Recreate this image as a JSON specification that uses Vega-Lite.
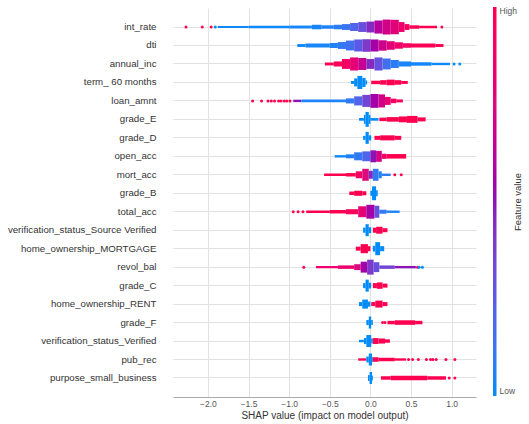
{
  "$schema": "https://vega.github.io/schema/vega-lite/v6.json",
  "width": 303,
  "height": 389,
  "autosize": "none",
  "padding": {"left": 173, "top": 8, "right": 53, "bottom": 27},
  "config": {
    "font": "Liberation Sans",
    "view": {"stroke": null}
  },
  "datasets": {
    "segs": [
      {"f": "int_rate", "a": -1.88, "b": -1.5, "n": 0.75, "v": 0.02},
      {"f": "int_rate", "a": -1.5, "b": -1.0, "n": 0.9, "v": 0.02},
      {"f": "int_rate", "a": -1.0, "b": -0.72, "n": 1.1, "v": 0.03},
      {"f": "int_rate", "a": -0.72, "b": -0.6, "n": 1.7, "v": 0.03},
      {"f": "int_rate", "a": -0.6, "b": -0.45, "n": 1.3, "v": 0.05},
      {"f": "int_rate", "a": -0.45, "b": -0.35, "n": 1.7, "v": 0.08},
      {"f": "int_rate", "a": -0.35, "b": -0.25, "n": 2.2, "v": 0.12},
      {"f": "int_rate", "a": -0.25, "b": -0.15, "n": 3.0, "v": 0.2},
      {"f": "int_rate", "a": -0.15, "b": -0.05, "n": 3.7, "v": 0.3},
      {"f": "int_rate", "a": -0.05, "b": 0.05, "n": 4.1, "v": 0.45},
      {"f": "int_rate", "a": 0.05, "b": 0.15, "n": 4.9, "v": 0.6},
      {"f": "int_rate", "a": 0.15, "b": 0.25, "n": 5.6, "v": 0.7},
      {"f": "int_rate", "a": 0.25, "b": 0.35, "n": 5.4, "v": 0.78},
      {"f": "int_rate", "a": 0.35, "b": 0.42, "n": 3.7, "v": 0.85},
      {"f": "int_rate", "a": 0.42, "b": 0.48, "n": 2.2, "v": 0.92},
      {"f": "int_rate", "a": 0.48, "b": 0.6, "n": 1.3, "v": 0.97},
      {"f": "int_rate", "a": 0.6, "b": 0.82, "n": 0.9, "v": 1},

      {"f": "dti", "a": -0.9, "b": -0.8, "n": 1.1, "v": 0.02},
      {"f": "dti", "a": -0.8, "b": -0.5, "n": 1.5, "v": 0.03},
      {"f": "dti", "a": -0.5, "b": -0.4, "n": 1.9, "v": 0.05},
      {"f": "dti", "a": -0.4, "b": -0.3, "n": 2.6, "v": 0.1},
      {"f": "dti", "a": -0.3, "b": -0.2, "n": 3.7, "v": 0.15},
      {"f": "dti", "a": -0.2, "b": -0.1, "n": 4.5, "v": 0.25},
      {"f": "dti", "a": -0.1, "b": 0.0, "n": 4.7, "v": 0.4},
      {"f": "dti", "a": 0.0, "b": 0.1, "n": 4.5, "v": 0.55},
      {"f": "dti", "a": 0.1, "b": 0.2, "n": 3.9, "v": 0.68},
      {"f": "dti", "a": 0.2, "b": 0.3, "n": 3.2, "v": 0.78},
      {"f": "dti", "a": 0.3, "b": 0.4, "n": 2.4, "v": 0.87},
      {"f": "dti", "a": 0.4, "b": 0.5, "n": 1.7, "v": 0.93},
      {"f": "dti", "a": 0.5, "b": 0.8, "n": 1.5, "v": 0.98},
      {"f": "dti", "a": 0.8, "b": 0.9, "n": 1.1, "v": 1},

      {"f": "annual_inc", "a": -0.56, "b": -0.45, "n": 1.1, "v": 1},
      {"f": "annual_inc", "a": -0.45, "b": -0.35, "n": 1.9, "v": 0.97},
      {"f": "annual_inc", "a": -0.35, "b": -0.25, "n": 3.7, "v": 0.9},
      {"f": "annual_inc", "a": -0.25, "b": -0.15, "n": 4.9, "v": 0.8},
      {"f": "annual_inc", "a": -0.15, "b": -0.05, "n": 4.5, "v": 0.65},
      {"f": "annual_inc", "a": -0.05, "b": 0.05, "n": 3.7, "v": 0.45},
      {"f": "annual_inc", "a": 0.05, "b": 0.15, "n": 4.9, "v": 0.3},
      {"f": "annual_inc", "a": 0.15, "b": 0.25, "n": 4.1, "v": 0.15},
      {"f": "annual_inc", "a": 0.25, "b": 0.35, "n": 3.0, "v": 0.08},
      {"f": "annual_inc", "a": 0.35, "b": 0.5, "n": 1.9, "v": 0.04},
      {"f": "annual_inc", "a": 0.5, "b": 0.75, "n": 1.3, "v": 0.02},
      {"f": "annual_inc", "a": 0.75, "b": 0.98, "n": 0.9, "v": 0.02},

      {"f": "term_ 60 months", "a": -0.24, "b": -0.2, "n": 1.1, "v": 0},
      {"f": "term_ 60 months", "a": -0.2, "b": -0.16, "n": 3.0, "v": 0},
      {"f": "term_ 60 months", "a": -0.16, "b": -0.1, "n": 4.9, "v": 0},
      {"f": "term_ 60 months", "a": -0.1, "b": -0.06, "n": 3.4, "v": 0},
      {"f": "term_ 60 months", "a": -0.06, "b": -0.04, "n": 1.5, "v": 0},
      {"f": "term_ 60 months", "a": 0.01, "b": 0.12, "n": 1.3, "v": 1},
      {"f": "term_ 60 months", "a": 0.12, "b": 0.2, "n": 1.7, "v": 1},
      {"f": "term_ 60 months", "a": 0.2, "b": 0.3, "n": 2.1, "v": 1},
      {"f": "term_ 60 months", "a": 0.3, "b": 0.38, "n": 1.7, "v": 1},
      {"f": "term_ 60 months", "a": 0.38, "b": 0.46, "n": 1.1, "v": 1},

      {"f": "loan_amnt", "a": -0.95, "b": -0.85, "n": 0.9, "v": 0.5},
      {"f": "loan_amnt", "a": -0.85, "b": -0.3, "n": 1.0, "v": 0.05},
      {"f": "loan_amnt", "a": -0.3, "b": -0.2, "n": 1.9, "v": 0.1},
      {"f": "loan_amnt", "a": -0.2, "b": -0.1, "n": 3.4, "v": 0.2},
      {"f": "loan_amnt", "a": -0.1, "b": 0.0, "n": 4.5, "v": 0.35},
      {"f": "loan_amnt", "a": 0.0, "b": 0.1, "n": 5.2, "v": 0.55},
      {"f": "loan_amnt", "a": 0.1, "b": 0.18, "n": 4.9, "v": 0.7},
      {"f": "loan_amnt", "a": 0.18, "b": 0.25, "n": 3.0, "v": 0.82},
      {"f": "loan_amnt", "a": 0.25, "b": 0.32, "n": 1.7, "v": 0.9},
      {"f": "loan_amnt", "a": 0.32, "b": 0.4, "n": 1.1, "v": 0.95},

      {"f": "grade_E", "a": -0.14, "b": -0.08, "n": 1.0, "v": 0},
      {"f": "grade_E", "a": -0.08, "b": -0.06, "n": 3.4, "v": 0},
      {"f": "grade_E", "a": -0.06, "b": -0.02, "n": 5.6, "v": 0},
      {"f": "grade_E", "a": -0.02, "b": 0.0, "n": 3.4, "v": 0},
      {"f": "grade_E", "a": 0.0, "b": 0.1, "n": 1.0, "v": 0},
      {"f": "grade_E", "a": 0.11, "b": 0.2, "n": 1.3, "v": 1},
      {"f": "grade_E", "a": 0.2, "b": 0.35, "n": 1.7, "v": 1},
      {"f": "grade_E", "a": 0.35, "b": 0.45, "n": 2.2, "v": 1},
      {"f": "grade_E", "a": 0.45, "b": 0.58, "n": 2.6, "v": 1},
      {"f": "grade_E", "a": 0.58, "b": 0.68, "n": 1.5, "v": 1},

      {"f": "grade_D", "a": -0.09, "b": -0.06, "n": 1.5, "v": 0},
      {"f": "grade_D", "a": -0.06, "b": -0.02, "n": 4.5, "v": 0},
      {"f": "grade_D", "a": -0.02, "b": 0.01, "n": 1.9, "v": 0},
      {"f": "grade_D", "a": 0.05, "b": 0.12, "n": 1.5, "v": 1},
      {"f": "grade_D", "a": 0.12, "b": 0.3, "n": 1.9, "v": 1},
      {"f": "grade_D", "a": 0.3, "b": 0.38, "n": 1.5, "v": 1},

      {"f": "open_acc", "a": -0.44, "b": -0.3, "n": 0.9, "v": 0.02},
      {"f": "open_acc", "a": -0.3, "b": -0.2, "n": 1.5, "v": 0.05},
      {"f": "open_acc", "a": -0.2, "b": -0.1, "n": 3.0, "v": 0.1},
      {"f": "open_acc", "a": -0.1, "b": 0.0, "n": 3.7, "v": 0.2},
      {"f": "open_acc", "a": 0.0, "b": 0.07, "n": 4.5, "v": 0.5},
      {"f": "open_acc", "a": 0.07, "b": 0.14, "n": 4.1, "v": 0.7},
      {"f": "open_acc", "a": 0.14, "b": 0.2, "n": 1.9, "v": 0.9},
      {"f": "open_acc", "a": 0.2, "b": 0.44, "n": 1.7, "v": 1},

      {"f": "mort_acc", "a": -0.57, "b": -0.3, "n": 0.9, "v": 1},
      {"f": "mort_acc", "a": -0.3, "b": -0.18, "n": 1.3, "v": 1},
      {"f": "mort_acc", "a": -0.18, "b": -0.1, "n": 2.6, "v": 0.9},
      {"f": "mort_acc", "a": -0.1, "b": -0.02, "n": 4.5, "v": 0.75},
      {"f": "mort_acc", "a": -0.02, "b": 0.03, "n": 3.0, "v": 0.45},
      {"f": "mort_acc", "a": 0.03, "b": 0.1, "n": 4.5, "v": 0.1},
      {"f": "mort_acc", "a": 0.1, "b": 0.14, "n": 2.6, "v": 0.05},
      {"f": "mort_acc", "a": 0.14, "b": 0.25, "n": 0.9, "v": 0.1},

      {"f": "grade_B", "a": -0.26, "b": -0.2, "n": 1.3, "v": 1},
      {"f": "grade_B", "a": -0.2, "b": -0.1, "n": 1.9, "v": 1},
      {"f": "grade_B", "a": -0.1, "b": -0.05, "n": 1.5, "v": 1},
      {"f": "grade_B", "a": 0.0, "b": 0.02, "n": 1.9, "v": 0},
      {"f": "grade_B", "a": 0.02, "b": 0.07, "n": 5.2, "v": 0},
      {"f": "grade_B", "a": 0.07, "b": 0.09, "n": 2.2, "v": 0},

      {"f": "total_acc", "a": -0.79, "b": -0.5, "n": 0.9, "v": 1},
      {"f": "total_acc", "a": -0.5, "b": -0.3, "n": 1.3, "v": 1},
      {"f": "total_acc", "a": -0.3, "b": -0.15, "n": 1.9, "v": 0.95},
      {"f": "total_acc", "a": -0.15, "b": -0.05, "n": 4.1, "v": 0.8},
      {"f": "total_acc", "a": -0.05, "b": 0.05, "n": 5.2, "v": 0.55},
      {"f": "total_acc", "a": 0.05, "b": 0.11, "n": 4.5, "v": 0.3},
      {"f": "total_acc", "a": 0.11, "b": 0.2, "n": 1.5, "v": 0.1},
      {"f": "total_acc", "a": 0.2, "b": 0.36, "n": 0.9, "v": 0.05},

      {"f": "verification_status_Source Verified", "a": -0.09, "b": -0.06, "n": 1.9, "v": 0},
      {"f": "verification_status_Source Verified", "a": -0.06, "b": -0.02, "n": 4.5, "v": 0},
      {"f": "verification_status_Source Verified", "a": -0.02, "b": 0.01, "n": 2.2, "v": 0},
      {"f": "verification_status_Source Verified", "a": 0.03, "b": 0.07, "n": 1.9, "v": 1},
      {"f": "verification_status_Source Verified", "a": 0.07, "b": 0.15, "n": 2.6, "v": 1},
      {"f": "verification_status_Source Verified", "a": 0.15, "b": 0.21, "n": 1.5, "v": 1},

      {"f": "home_ownership_MORTGAGE", "a": -0.18, "b": -0.12, "n": 1.5, "v": 1},
      {"f": "home_ownership_MORTGAGE", "a": -0.12, "b": -0.03, "n": 3.4, "v": 1},
      {"f": "home_ownership_MORTGAGE", "a": -0.03, "b": 0.0, "n": 1.9, "v": 1},
      {"f": "home_ownership_MORTGAGE", "a": 0.03, "b": 0.06, "n": 2.2, "v": 0},
      {"f": "home_ownership_MORTGAGE", "a": 0.06, "b": 0.12, "n": 4.9, "v": 0},
      {"f": "home_ownership_MORTGAGE", "a": 0.12, "b": 0.17, "n": 1.9, "v": 0},

      {"f": "revol_bal", "a": -0.67, "b": -0.4, "n": 0.9, "v": 0.85},
      {"f": "revol_bal", "a": -0.4, "b": -0.2, "n": 1.3, "v": 0.85},
      {"f": "revol_bal", "a": -0.2, "b": -0.12, "n": 2.2, "v": 0.75},
      {"f": "revol_bal", "a": -0.12, "b": -0.04, "n": 4.1, "v": 0.55},
      {"f": "revol_bal", "a": -0.04, "b": 0.04, "n": 5.6, "v": 0.4},
      {"f": "revol_bal", "a": 0.04, "b": 0.11, "n": 3.7, "v": 0.3},
      {"f": "revol_bal", "a": 0.11, "b": 0.3, "n": 1.3, "v": 0.35},
      {"f": "revol_bal", "a": 0.3, "b": 0.56, "n": 0.9, "v": 0.5},

      {"f": "grade_C", "a": -0.09, "b": -0.06, "n": 1.9, "v": 0},
      {"f": "grade_C", "a": -0.06, "b": -0.02, "n": 4.5, "v": 0},
      {"f": "grade_C", "a": -0.02, "b": 0.01, "n": 2.2, "v": 0},
      {"f": "grade_C", "a": 0.03, "b": 0.08, "n": 1.9, "v": 1},
      {"f": "grade_C", "a": 0.08, "b": 0.15, "n": 2.4, "v": 1},
      {"f": "grade_C", "a": 0.15, "b": 0.21, "n": 1.5, "v": 1},

      {"f": "home_ownership_RENT", "a": -0.14, "b": -0.1, "n": 1.5, "v": 0},
      {"f": "home_ownership_RENT", "a": -0.1, "b": -0.03, "n": 3.4, "v": 0},
      {"f": "home_ownership_RENT", "a": -0.03, "b": 0.0, "n": 1.9, "v": 0},
      {"f": "home_ownership_RENT", "a": 0.01, "b": 0.06, "n": 1.5, "v": 1},
      {"f": "home_ownership_RENT", "a": 0.06, "b": 0.15, "n": 2.6, "v": 1},
      {"f": "home_ownership_RENT", "a": 0.15, "b": 0.21, "n": 1.5, "v": 1},

      {"f": "grade_F", "a": -0.05, "b": -0.02, "n": 1.9, "v": 0},
      {"f": "grade_F", "a": -0.02, "b": 0.01, "n": 4.5, "v": 0},
      {"f": "grade_F", "a": 0.01, "b": 0.03, "n": 1.9, "v": 0},
      {"f": "grade_F", "a": 0.21, "b": 0.3, "n": 1.3, "v": 1},
      {"f": "grade_F", "a": 0.3, "b": 0.55, "n": 1.7, "v": 1},
      {"f": "grade_F", "a": 0.55, "b": 0.64, "n": 1.3, "v": 1},

      {"f": "verification_status_Verified", "a": -0.14, "b": -0.08, "n": 0.9, "v": 0},
      {"f": "verification_status_Verified", "a": -0.08, "b": -0.05, "n": 2.2, "v": 0},
      {"f": "verification_status_Verified", "a": -0.05, "b": 0.01, "n": 4.5, "v": 0},
      {"f": "verification_status_Verified", "a": 0.01, "b": 0.03, "n": 1.9, "v": 0},
      {"f": "verification_status_Verified", "a": 0.03, "b": 0.1, "n": 2.2, "v": 1},
      {"f": "verification_status_Verified", "a": 0.1, "b": 0.18, "n": 1.9, "v": 1},
      {"f": "verification_status_Verified", "a": 0.18, "b": 0.24, "n": 1.3, "v": 1},

      {"f": "pub_rec", "a": -0.15, "b": -0.05, "n": 0.9, "v": 1},
      {"f": "pub_rec", "a": -0.05, "b": -0.02, "n": 2.2, "v": 0},
      {"f": "pub_rec", "a": -0.02, "b": 0.02, "n": 4.5, "v": 0},
      {"f": "pub_rec", "a": 0.02, "b": 0.03, "n": 1.9, "v": 0},
      {"f": "pub_rec", "a": 0.03, "b": 0.1, "n": 1.7, "v": 1},
      {"f": "pub_rec", "a": 0.1, "b": 0.3, "n": 1.3, "v": 1},
      {"f": "pub_rec", "a": 0.3, "b": 0.44, "n": 0.9, "v": 1},

      {"f": "purpose_small_business", "a": -0.03, "b": -0.01, "n": 2.2, "v": 0},
      {"f": "purpose_small_business", "a": -0.01, "b": 0.02, "n": 4.5, "v": 0},
      {"f": "purpose_small_business", "a": 0.02, "b": 0.03, "n": 1.9, "v": 0},
      {"f": "purpose_small_business", "a": 0.13, "b": 0.25, "n": 1.3, "v": 1},
      {"f": "purpose_small_business", "a": 0.25, "b": 0.7, "n": 1.7, "v": 1},
      {"f": "purpose_small_business", "a": 0.7, "b": 0.93, "n": 1.3, "v": 1}
    ],
    "dots": [
      {"f": "int_rate", "s": -2.27, "v": 1},
      {"f": "int_rate", "s": -2.07, "v": 1},
      {"f": "int_rate", "s": -1.96, "v": 1},
      {"f": "int_rate", "s": -1.91, "v": 0},
      {"f": "int_rate", "s": 0.88, "v": 1},
      {"f": "annual_inc", "s": 1.03, "v": 0},
      {"f": "annual_inc", "s": 1.1, "v": 0},
      {"f": "loan_amnt", "s": -1.45, "v": 1},
      {"f": "loan_amnt", "s": -1.34, "v": 1},
      {"f": "loan_amnt", "s": -1.26, "v": 1},
      {"f": "loan_amnt", "s": -1.22, "v": 1},
      {"f": "loan_amnt", "s": -1.18, "v": 1},
      {"f": "loan_amnt", "s": -1.13, "v": 1},
      {"f": "loan_amnt", "s": -1.1, "v": 1},
      {"f": "loan_amnt", "s": -1.06, "v": 1},
      {"f": "loan_amnt", "s": -1.03, "v": 1},
      {"f": "loan_amnt", "s": -0.99, "v": 1},
      {"f": "mort_acc", "s": 0.3, "v": 1},
      {"f": "mort_acc", "s": 0.38, "v": 1},
      {"f": "total_acc", "s": -0.95, "v": 1},
      {"f": "total_acc", "s": -0.89, "v": 1},
      {"f": "total_acc", "s": -0.83, "v": 1},
      {"f": "revol_bal", "s": -0.82, "v": 1},
      {"f": "revol_bal", "s": 0.58, "v": 1},
      {"f": "revol_bal", "s": 0.6, "v": 0},
      {"f": "revol_bal", "s": 0.64, "v": 0},
      {"f": "grade_F", "s": 0.15, "v": 1},
      {"f": "grade_F", "s": 0.18, "v": 1},
      {"f": "pub_rec", "s": 0.47, "v": 1},
      {"f": "pub_rec", "s": 0.52, "v": 1},
      {"f": "pub_rec", "s": 0.59, "v": 1},
      {"f": "pub_rec", "s": 0.69, "v": 1},
      {"f": "pub_rec", "s": 0.74, "v": 1},
      {"f": "pub_rec", "s": 0.77, "v": 1},
      {"f": "pub_rec", "s": 0.81, "v": 1},
      {"f": "pub_rec", "s": 0.93, "v": 1},
      {"f": "pub_rec", "s": 1.04, "v": 1},
      {"f": "purpose_small_business", "s": 0.97, "v": 1},
      {"f": "purpose_small_business", "s": 1.04, "v": 1}
    ]
  },
  "layer": [
    {
      "mark": {"type": "rule", "color": "#999999", "strokeWidth": 1.6},
      "encoding": {"x": {"datum": 0, "type": "quantitative"}}
    },
    {
      "data": {"name": "segs"},
      "mark": {"type": "bar"},
      "encoding": {
        "x": {
          "field": "a",
          "type": "quantitative",
          "scale": {"domain": [-2.43, 1.3], "nice": false, "zero": false},
          "axis": {
            "values": [-2, -1.5, -1, -0.5, 0, 0.5, 1],
            "format": ".1f",
            "title": "SHAP value (impact on model output)",
            "grid": true,
            "gridColor": "#e2e2e2",
            "domainColor": "#aaaaaa",
            "domainWidth": 1.2,
            "ticks": false,
            "labelPadding": 2,
            "labelFontSize": 8.5,
            "labelColor": "#555555",
            "titleFontSize": 10,
            "titleFontWeight": "normal",
            "titleColor": "#333333",
            "titlePadding": 3
          }
        },
        "x2": {"field": "b"},
        "y": {
          "field": "f",
          "type": "nominal",
          "scale": {
            "domain": ["int_rate", "dti", "annual_inc", "term_ 60 months", "loan_amnt", "grade_E", "grade_D", "open_acc", "mort_acc", "grade_B", "total_acc", "verification_status_Source Verified", "home_ownership_MORTGAGE", "revol_bal", "grade_C", "home_ownership_RENT", "grade_F", "verification_status_Verified", "pub_rec", "purpose_small_business"],
            "paddingInner": 0,
            "paddingOuter": 0.53
          },
          "axis": {
            "title": null,
            "grid": true,
            "bandPosition": 0.5,
            "gridColor": "#e2e2e2",
            "domain": false,
            "ticks": false,
            "labelPadding": 17,
            "labelFontSize": 9.7,
            "labelColor": "#333333"
          }
        },
        "size": {"field": "n", "type": "quantitative", "scale": {"domain": [0, 6], "range": [0, 16]}, "legend": null},
        "color": {
          "field": "v",
          "type": "quantitative",
          "scale": {
            "domain": [0, 0.25, 0.5, 0.75, 1],
            "range": ["#008bfb", "#5a5ae6", "#8c14b4", "#dc0a7c", "#ff0051"]
          },
          "legend": {
            "orient": "none",
            "legendX": 320,
            "legendY": -1,
            "direction": "vertical",
            "gradientLength": 389,
            "gradientThickness": 3.5,
            "gradientStrokeWidth": 0,
            "values": [0, 1],
            "labelExpr": "datum.value == 1 ? 'High' : 'Low'",
            "labelBaseline": "middle",
            "labelFontSize": 8.5,
            "labelColor": "#555555",
            "labelOffset": 3,
            "title": "Feature value",
            "titleOrient": "right",
            "titleAnchor": "middle",
            "titlePadding": 6,
            "titleFontSize": 9.5,
            "titleFontWeight": "normal",
            "titleColor": "#333333",
            "encode": {"title": {"update": {"angle": {"value": 270}}}}
          }
        }
      }
    },
    {
      "data": {"name": "dots"},
      "mark": {"type": "circle", "size": 9, "opacity": 1},
      "encoding": {
        "x": {"field": "s", "type": "quantitative"},
        "y": {"field": "f", "type": "nominal"},
        "color": {"field": "v", "type": "quantitative"}
      }
    }
  ]
}
